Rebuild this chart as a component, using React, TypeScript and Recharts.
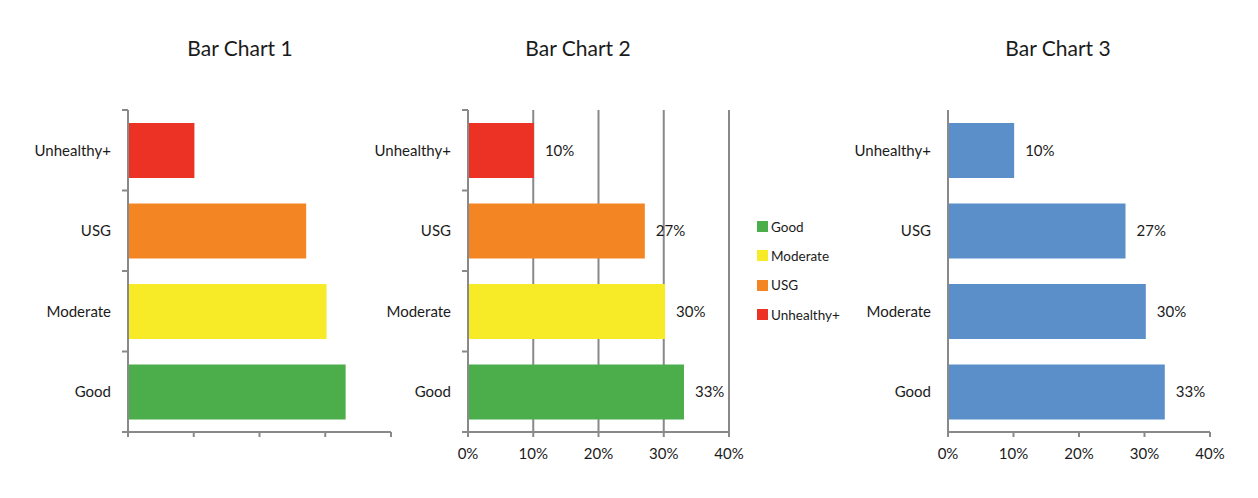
import React from 'react';
import { BarChart, Bar, XAxis, YAxis, CartesianGrid, Cell, LabelList, Legend } from 'recharts';

// AQI categories, top to bottom as drawn
const categories = ['Unhealthy+', 'USG', 'Moderate', 'Good'];
const shares = [0.101, 0.271, 0.302, 0.331];
const aqiColors = ['#EC3125', '#F38523', '#F7EA26', '#4BAE4A'];
const singleColor = '#5B8FC9';
const chartTitles = ['Bar Chart 1', 'Bar Chart 2', 'Bar Chart 3'];
const xTicks = [0, 0.1, 0.2, 0.3, 0.4];
const legendOrder = ['Good', 'Moderate', 'USG', 'Unhealthy+'];

const data = categories.map((name, i) => ({ name, share: shares[i], color: aqiColors[i] }));

const AXIS = '#898989';
const FONT = 'Lato, "Open Sans", sans-serif';
const TEXT = '#1b1b1b';
const FS = 15;
const pct = (v: number) => `${Math.round(v * 100)}%`;

const axisStyle = { stroke: AXIS, strokeWidth: 2 };

// category tick: label at band centre, optional small marks at the band edges
function makeBandTick(withMarks: boolean) {
  return function BandTick(props: any) {
    const { x, y, payload } = props;
    const half = payload?.offset ?? 0;
    const isLast = payload?.value === categories[categories.length - 1];
    return (
      <g>
        <text x={x} y={y} dy="0.35em" textAnchor="end" fontSize={FS} fill={TEXT} fontFamily={FONT}>
          {payload.value}
        </text>
        {withMarks && (
          <line x1={x + 11} x2={x + 17} y1={y - half} y2={y - half} stroke={AXIS} strokeWidth={2} />
        )}
        {withMarks && isLast && (
          <line x1={x + 11} x2={x + 17} y1={y + half} y2={y + half} stroke={AXIS} strokeWidth={2} />
        )}
      </g>
    );
  };
}

// chart 1 keeps the tick marks but shows no tick labels
const NoLabel = () => <g />;

function AqiLegend() {
  return (
    <div style={{ fontFamily: FONT, fontSize: 13.5, color: TEXT }}>
      {legendOrder.map(name => (
        <div key={name} style={{ display: 'flex', alignItems: 'center', height: 29.3 }}>
          <span
            style={{
              display: 'inline-block', width: 11, height: 11, marginRight: 3,
              background: aqiColors[categories.indexOf(name)],
            }}
          />
          <span>{name}</span>
        </div>
      ))}
    </div>
  );
}

interface PanelProps {
  left: number;
  width: number;
  marginRight: number;
  variant: 1 | 2 | 3;
}

function Panel({ left, width, marginRight, variant }: PanelProps) {
  const colored = variant !== 3;
  return (
    <div style={{ position: 'absolute', left, top: 0 }}>
      <BarChart
        width={width}
        height={498}
        data={data}
        layout="vertical"
        margin={{ top: 110, right: marginRight, bottom: 36, left: 28 }}
        barCategoryGap="16%"
      >
        {variant === 2 && (
          <CartesianGrid horizontal={false} vertical stroke={AXIS} strokeWidth={2} />
        )}
        <XAxis
          type="number"
          domain={[0, 0.4]}
          ticks={xTicks}
          tickFormatter={pct}
          tick={variant === 1 ? NoLabel : { fontSize: FS, fill: TEXT, fontFamily: FONT }}
          axisLine={axisStyle}
          tickLine={axisStyle}
          tickSize={5}
          tickMargin={11}
          height={30}
          interval={0}
        />
        <YAxis
          type="category"
          dataKey="name"
          width={100}
          axisLine={axisStyle}
          tickLine={false}
          tickSize={6}
          tickMargin={11}
          tick={makeBandTick(variant !== 3)}
          interval={0}
        />
        <Bar dataKey="share" isAnimationActive={false} fill={singleColor}>
          {data.map(d => (
            <Cell key={d.name} fill={colored ? d.color : singleColor} />
          ))}
          {variant !== 1 && (
            <LabelList
              dataKey="share"
              position="right"
              offset={11}
              formatter={(v: any) => pct(Number(v))}
              style={{ fontSize: FS, fill: TEXT, fontFamily: FONT }}
            />
          )}
        </Bar>
        {variant === 2 && (
          <Legend
            layout="vertical"
            align="center"
            verticalAlign="middle"
            content={() => <AqiLegend />}
            wrapperStyle={{ left: 417, top: 212, width: 120 }}
          />
        )}
      </BarChart>
    </div>
  );
}

const titleCenters = [240, 578, 1058];

export default function App() {
  return (
    <div
      style={{
        position: 'absolute', left: 0, top: 0, width: 1258, height: 498,
        background: '#fff', fontFamily: FONT, overflow: 'hidden',
      }}
    >
      {chartTitles.map((t, i) => (
        <div
          key={t}
          style={{
            position: 'absolute', top: 35, left: titleCenters[i] - 100, width: 200,
            textAlign: 'center', fontSize: 21, color: TEXT,
          }}
        >
          {t}
        </div>
      ))}
      <Panel left={0} width={400} marginRight={9} variant={1} />
      <Panel left={340} width={540} marginRight={151} variant={2} />
      <Panel left={820} width={430} marginRight={40} variant={3} />
    </div>
  );
}
